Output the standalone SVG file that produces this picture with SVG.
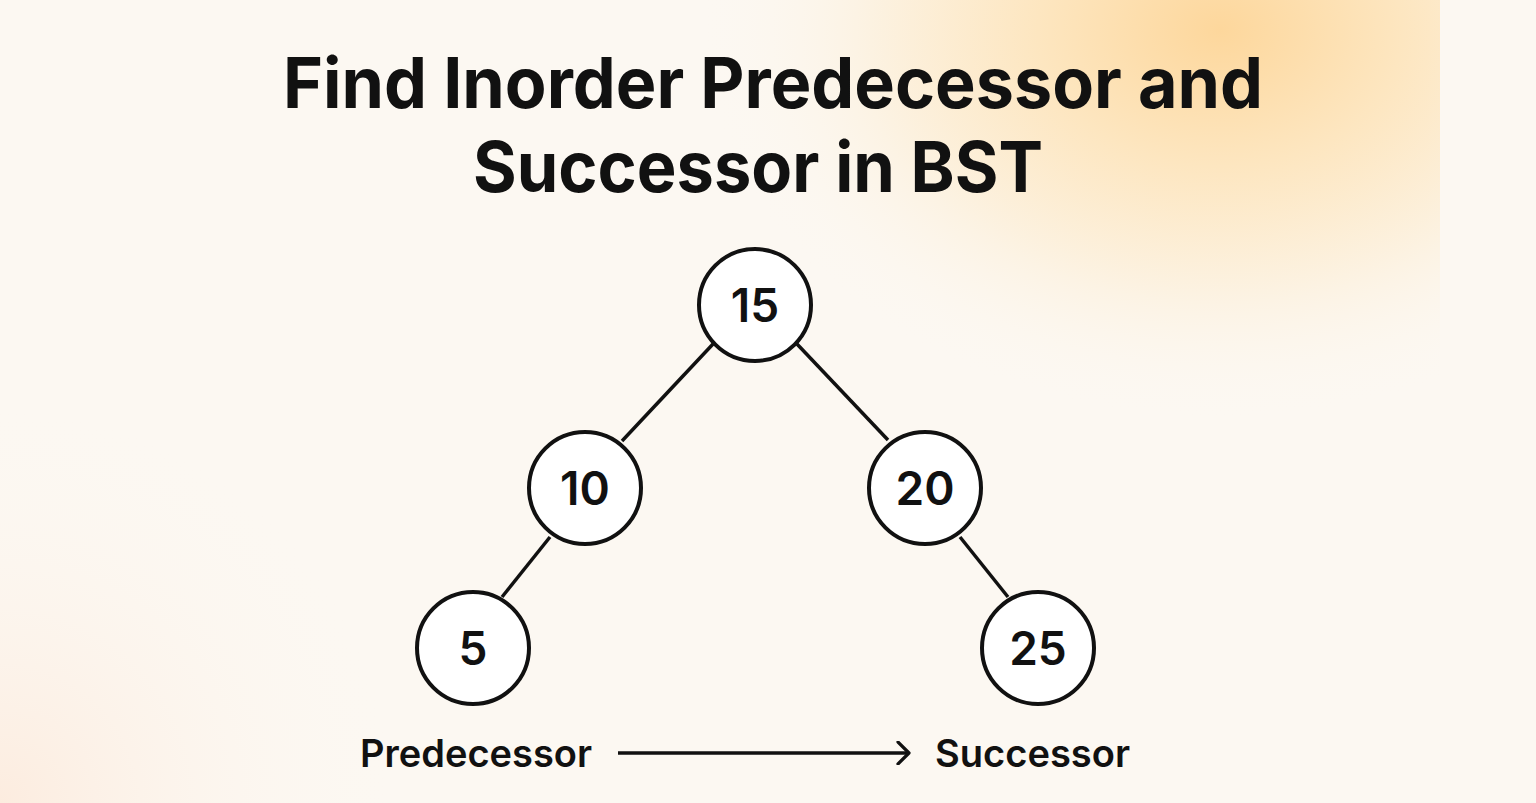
<svg xmlns="http://www.w3.org/2000/svg" width="1536" height="803" viewBox="0 0 1536 803">
  <defs>
    <radialGradient id="glow" cx="1220" cy="30" r="520" gradientUnits="userSpaceOnUse" gradientTransform="translate(1220 30) scale(1 0.75) translate(-1220 -30)">
      <stop offset="0" stop-color="#fdd79c"/>
      <stop offset="0.35" stop-color="#fde6c0"/>
      <stop offset="0.7" stop-color="#fcf3e4"/>
      <stop offset="1" stop-color="#fcf8f2" stop-opacity="0"/>
    </radialGradient>
    <radialGradient id="glow2" cx="0" cy="803" r="400" gradientUnits="userSpaceOnUse">
      <stop offset="0" stop-color="#fcecdf"/>
      <stop offset="1" stop-color="#fcf8f2" stop-opacity="0"/>
    </radialGradient>
    <marker id="chev" viewBox="0 0 20 24" refX="17" refY="12" markerWidth="20" markerHeight="24" markerUnits="userSpaceOnUse" orient="auto">
      <path d="M6 1 L17 12 L6 23" fill="none" stroke="#111" stroke-width="3.2" stroke-linecap="round" stroke-linejoin="round"/>
    </marker>
    <style>
      .node circle { fill: #ffffff; stroke: #111111; stroke-width: 4; }
      .node text { font-family: "Inter", "Liberation Sans", sans-serif; font-weight: 600; font-size: 46px; fill: #111111; text-anchor: middle; dominant-baseline: central; }
      .edge { stroke: #111111; stroke-width: 3.5; fill: none; }
      .title { font-family: "Inter", "Liberation Sans", sans-serif; font-weight: 700; font-size: 70px; fill: #111111; }
      .label { font-family: "Inter", "Liberation Sans", sans-serif; font-weight: 600; font-size: 38px; fill: #111111; }
    </style>
  </defs>
  <rect width="1536" height="803" fill="#fcf8f2"/>
  <rect width="1536" height="803" fill="url(#glow2)"/>
  <rect width="1440" height="803" fill="url(#glow)"/>

  <g id="title">
    <text class="title" x="283" y="108" textLength="980" lengthAdjust="spacingAndGlyphs">Find Inorder Predecessor and</text>
    <text class="title" x="473" y="192" textLength="570" lengthAdjust="spacingAndGlyphs">Successor in BST</text>
  </g>

  <g id="connectors">
    <line class="edge" x1="713" y1="344" x2="622" y2="441"/>
    <line class="edge" x1="797" y1="344" x2="888" y2="440"/>
    <line class="edge" x1="550" y1="537" x2="502" y2="597"/>
    <line class="edge" x1="960" y1="537" x2="1008" y2="597"/>
    <line class="edge" x1="618" y1="753" x2="909" y2="753" marker-end="url(#chev)"/>
  </g>

  <g id="node15" class="node"><circle cx="755" cy="305" r="56"/><text x="755" y="305">15</text></g>
  <g id="node10" class="node"><circle cx="585" cy="488" r="56"/><text x="585" y="488">10</text></g>
  <g id="node20" class="node"><circle cx="925" cy="488" r="56"/><text x="925" y="488">20</text></g>
  <g id="node5" class="node"><circle cx="473" cy="648" r="56"/><text x="473" y="648">5</text></g>
  <g id="node25" class="node"><circle cx="1038" cy="648" r="56"/><text x="1038" y="648">25</text></g>

  <g id="labels">
    <text class="label" x="360" y="767" textLength="232" lengthAdjust="spacingAndGlyphs">Predecessor</text>
    <text class="label" x="935" y="767" textLength="195" lengthAdjust="spacingAndGlyphs">Successor</text>
  </g>
</svg>
